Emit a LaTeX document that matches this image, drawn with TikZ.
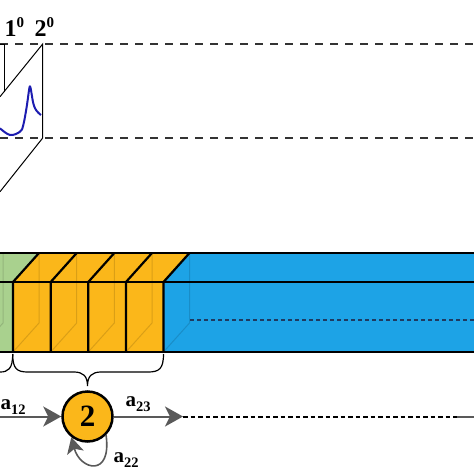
\documentclass[tikz,border=0pt]{standalone}
\usepackage{fontspec}
\setmainfont{Liberation Serif}
\usetikzlibrary{arrows.meta}
\definecolor{gfill}{HTML}{A9D18E}
\definecolor{ofill}{HTML}{FBB71A}
\definecolor{bfill}{HTML}{1DA3E6}
\definecolor{arrgray}{HTML}{595959}
\definecolor{navy}{HTML}{1F3A60}
\definecolor{curveblue}{HTML}{1C1CB0}
\tikzset{
  guide/.style={draw=black!80, line width=1.2pt, dash pattern=on 8pt off 7pt},
  thin/.style={draw=black, line width=1pt},
  edge/.style={draw=black, line width=2.2pt},
  faint/.style={draw=black, draw opacity=0.13, line width=1pt},
  garrow/.style={draw=arrgray, line width=2pt, -{Stealth[length=18pt,width=20pt,inset=5pt]}},
  loop/.style={draw=arrgray, line width=1.6pt, -{Stealth[length=16pt,width=17pt,inset=4pt]}},
  state/.style={circle, draw=black, line width=2.5pt, fill=ofill, minimum size=50pt, inner sep=0pt,
    font=\bfseries\fontsize{31}{31}\selectfont},
  lab/.style={font=\fontsize{24}{24}\selectfont, inner sep=0pt},
  alabel/.style={font=\fontsize{21}{21}\selectfont, inner sep=0pt},
  brace/.style={draw=black, line width=1.2pt}
}
\newcommand{\alab}[1]{\textbf{a}\raisebox{-5pt}{\fontsize{14.5}{14.5}\selectfont\bfseries #1}}
\begin{document}
\begin{tikzpicture}[x=1pt,y=-1pt]
\useasboundingbox (0,0) rectangle (474,474);
\clip (0,0) rectangle (474,474);

% top guide lines and panels
\draw[guide] (0,44) -- (474,44);
\draw[guide] (0,138) -- (474,138);
\draw[thin] (0,44) -- (4,44) -- (4,92);
\draw[thin] (0,96.7) -- (42.7,44) -- (42.7,138) -- (0,191.7);
\draw[curveblue, line width=2pt, line join=round]
  plot[smooth, tension=0.6] coordinates {(0,128.3) (10,135) (20,131.7) (23.3,125) (26.7,106.7) (29.3,88.5) (30.4,87.3) (31.8,95) (33,102) (35,108.3) (38.3,112.7) (41,115)};
\node[lab, anchor=base west] (l1) at (4.5,36.7) {\textbf{1}\raisebox{9pt}{\fontsize{15}{15}\selectfont\bfseries 0}};
\node[lab, anchor=base west] (l2) at (34.5,36.7) {\textbf{2}\raisebox{9pt}{\fontsize{15}{15}\selectfont\bfseries 0}};

% bar fills
\fill[gfill] (0,253) -- (39,253) -- (13,282) -- (0,282) -- cycle;
\fill[gfill] (0,282) rectangle (13,352);
\fill[ofill] (13,282) -- (39,253) -- (189.5,253) -- (163.5,282) -- cycle;
\fill[ofill] (13,282) rectangle (163.5,352);
\fill[bfill] (163.5,282) -- (189.5,253) -- (474,253) -- (474,282) -- cycle;
\fill[bfill] (163.5,282) rectangle (474,352);

% hidden back edges
\foreach \x in {-23,13,50.7,88.3,126,163.5}{
  \draw[faint] (\x+26,253) -- (\x+26,323) -- (\x,352);
}

% navy dashed line
\draw[navy, line width=2pt, dash pattern=on 4pt off 3pt] (190,319.5) -- (474,319.5);

% black edges
\draw[edge] (0,253) -- (474,253);
\draw[edge] (0,282) -- (474,282);
\draw[edge] (0,352) -- (474,352);
\foreach \x in {13,50.7,88.3,126,163.5}{
  \draw[edge, line join=round] (\x,352) -- (\x,282) -- (\x+26,253);
}

% braces
\draw[brace] (12.7,354) .. controls (12.7,369) and (8,372) .. (0,372);
\draw[brace] (12.7,354) .. controls (12.7,369) and (17,372) .. (28,372) -- (74,372)
  .. controls (83,372) and (87.5,376) .. (87.5,386)
  .. controls (87.5,376) and (92,372) .. (101,372) -- (148,372)
  .. controls (159,372) and (163.5,369) .. (163.5,354);

% HMM state and transitions
\node[state] (s2) at (87.5,416.5) {2};
\coordinate (cin) at (0,416.5);
\coordinate (cout) at (183,416.5);
\coordinate (cdash) at (457,416.5);
\coordinate (cend) at (474,416.5);
\draw[garrow] (cin) -- (s2);
\draw[garrow] (s2) -- (cout);
\draw[black, line width=2pt, dash pattern=on 4.5pt off 3pt] (cout) -- (cdash);
\draw[arrgray, line width=2pt] (cdash) -- (cend);
\draw[loop] (s2.-45) .. controls (112,478) and (80,470) .. (s2.-128);

\node[alabel, anchor=west] (a12) at (0.5,407) {\alab{12}};
\node[alabel] (a23) at (138,404) {\alab{23}};
\node[alabel] (a22) at (126,460) {\alab{22}};
\end{tikzpicture}
\end{document}
